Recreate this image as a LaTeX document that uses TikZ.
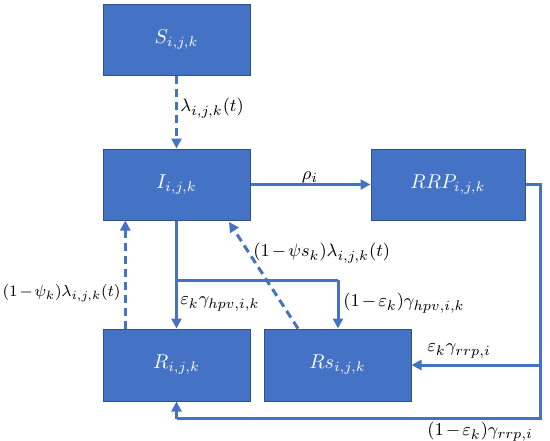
\documentclass[tikz,border=0pt]{standalone}
\usetikzlibrary{arrows.meta}
\definecolor{boxblue}{HTML}{4472C4}
\definecolor{boxedge}{HTML}{2F528F}
\begin{document}
\begin{tikzpicture}[x=0.5pt,y=-0.5pt,
  comp/.style={draw=boxedge,line width=0.5pt,fill=boxblue,text=white,inner sep=0pt,minimum width=73.5pt,minimum height=35.5pt},
  flow/.style={draw=boxblue,line width=1.5pt,-{Triangle[length=5pt,width=5pt]}},
  plain/.style={draw=boxblue,line width=1.5pt},
  dflow/.style={flow,dash pattern=on 4pt off 2.5pt},
  lab/.style={inner sep=0pt,text=black,font=\fontsize{9.5pt}{11pt}\selectfont,execute at begin node={\medmuskip=2mu}}]
\useasboundingbox (0,0) rectangle (550,440);
\node[comp] (S) at (176.5,39.5) {$S_{i,j,k}$};
\node[comp] (I) at (176.5,184.5) {$I_{i,j,k}$};
\node[comp,minimum width=77pt] (RRP) at (448,184.5) {$RRP_{i,j,k}$};
\node[comp,minimum height=36pt] (R) at (176.5,365) {$R_{i,j,k}$};
\node[comp,minimum height=36pt] (Rs) at (337.5,365) {$Rs_{i,j,k}$};
\coordinate (c1) at (540,184.5);
\coordinate (c2) at (540,365);
\coordinate (c3) at (540,418.6);
\coordinate (c4) at (176.5,418.6);
\coordinate (b1) at (176.5,280);
\coordinate (b2) at (338,280);
\coordinate (d1) at (125.3,347);
\coordinate (d2) at (125.3,202.5);
\coordinate (e1) at (298,347);
\coordinate (e2) at (229,222);
\draw[dflow] (S) -- (I);
\draw[flow] (I) -- (RRP);
\draw[plain] (RRP.east) -- (c1) -- (c3) -- (c4);
\draw[flow] (c4) -- (R.south);
\draw[flow] (c2) -- (Rs.east);
\draw[flow] (I.south) -- (R.north);
\draw[plain] (b1) -- (b2);
\draw[flow] (b2) -- (Rs.north -| b2);
\draw[dflow] (R.north -| d1) -- (I.south -| d2);
\draw[dflow] (Rs.north -| e1) -- (e2);
\node[lab] (l1) at (310,177) {$\rho_i$};
\node[lab,anchor=west] (l2) at (180,108) {$\lambda_{i,j,k}(t)$};
\node[lab,anchor=west] (l3) at (253,253) {$(1-\psi s_k)\lambda_{i,j,k}(t)$};
\node[lab,anchor=east,font=\fontsize{8.5pt}{10pt}\selectfont] (l4) at (121,293) {$(1-\psi_k)\lambda_{i,j,k}(t)$};
\node[lab,anchor=west] (l5) at (180,304) {$\varepsilon_k\gamma_{hpv,i,k}$};
\node[lab,anchor=west] (l6) at (343,303) {$(1-\varepsilon_k)\gamma_{hpv,i,k}$};
\node[lab,anchor=west] (l7) at (427,351) {$\varepsilon_k\gamma_{rrp,i}$};
\node[lab,anchor=west] (l8) at (427,432) {$(1-\varepsilon_k)\gamma_{rrp,i}$};
\end{tikzpicture}
\end{document}
